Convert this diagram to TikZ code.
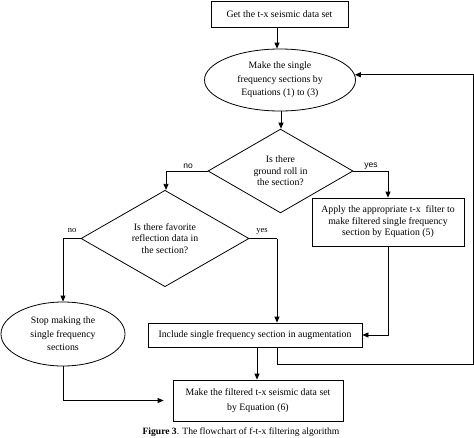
\documentclass[tikz,border=0pt]{standalone}
\usepackage{fontspec}
\setmainfont{Liberation Serif}
\newfontfamily\lsans{Liberation Sans}
\usetikzlibrary{shapes.geometric,arrows.meta,calc}
\begin{document}
\begin{tikzpicture}[x=1pt,y=-1pt,
  every node/.style={font=\fontsize{9.8}{12}\selectfont, align=center, inner sep=0pt},
  boxnode/.style={draw, rectangle, line width=0.8pt},
  ellnode/.style={draw, ellipse, line width=0.8pt, font=\fontsize{9.8}{13.5}\selectfont},
  dianode/.style={draw, diamond, line width=0.8pt, font=\fontsize{9.8}{11.5}\selectfont},
  conn/.style={line width=0.8pt},
  arr/.style={conn, -{Triangle[length=6pt,width=5pt]}},
  lblsans/.style={font=\lsans\fontsize{8.5}{10}\selectfont},
  lblserif/.style={font=\fontsize{8.5}{10}\selectfont}]
\useasboundingbox (0,0) rectangle (474,437);
\node[boxnode, minimum width=137pt, minimum height=26pt] (get) at (279.5,14) {Get the t-x seismic data set};
\node[ellnode, minimum width=151pt, minimum height=62pt] (mk) at (280,80) {Make the single\\frequency sections by\\Equations (1) to (3)};
\node[dianode, minimum width=145pt, minimum height=82pt] (d1) at (280.5,171) {Is there\\ground roll in\\the section?};
\node[boxnode, minimum width=152pt, minimum height=48pt, font=\fontsize{9.8}{11.5}\selectfont] (apply) at (388,222) {Apply the appropriate t-x\ \ filter to\\make filtered single frequency\\section by Equation (5)};
\node[dianode, minimum width=168pt, minimum height=83pt] (d2) at (165,238.5) {Is there favorite\\reflection data in\\the section?};
\node[ellnode, minimum width=124pt, minimum height=64pt] (stop) at (63,334) {Stop making the\\single frequency\\sections};
\node[boxnode, minimum width=214pt, minimum height=24pt] (inc) at (255,335) {Include single frequency section in augmentation};
\node[boxnode, minimum width=170pt, minimum height=41pt, font=\fontsize{9.8}{15}\selectfont] (make) at (258,400.5) {Make the filtered t-x seismic data set\\by Equation (6)};
\node[anchor=south, font=\fontsize{9.6}{10}\selectfont] (cap) at (241,436.5) {\textbf{Figure 3}. The flowchart of f-t-x filtering algorithm};
% labels
\node[lblsans] (no1) at (188,166) {no};
\node[lblsans] (yes1) at (371,166) {yes};
\node[lblserif] (no2) at (72,231) {no};
\node[lblserif] (yes2) at (262,231) {yes};
% coordinates
\coordinate (c1) at (166,171);
\coordinate (c2) at (388,171);
\coordinate (c3) at (63,238.5);
\coordinate (c4) at (277,238.5);
\coordinate (r1) at (473,364);
\coordinate (c5) at (257,347);
% connectors
\draw[arr] (get.south -| 277,0) -- (mk.north -| 277,0);
\draw[arr] (mk.south -| 281,0) -- (d1.north -| 281,0);
\draw[conn] (d1.west) -- (c1);
\draw[arr] (c1) -- (d2.north -| c1);
\draw[conn] (d1.east) -- (c2);
\draw[arr] (c2) -- (apply.north);
\draw[conn] (d2.west) -- (c3);
\draw[arr] (c3) -- (stop.north -| c3);
\draw[conn] (d2.east) -- (c4);
\draw[arr] (c4) -- (inc.north -| c4);
\draw[arr] (apply.south) |- (inc.east);
\draw[arr] ($(inc.south)+(22,0)$) |- (r1) |- (mk.4);
\draw[arr] (c5) -- (make.north -| c5);
\draw[arr, shorten >=9pt] (stop.south) |- (make.west);
\end{tikzpicture}
\end{document}
